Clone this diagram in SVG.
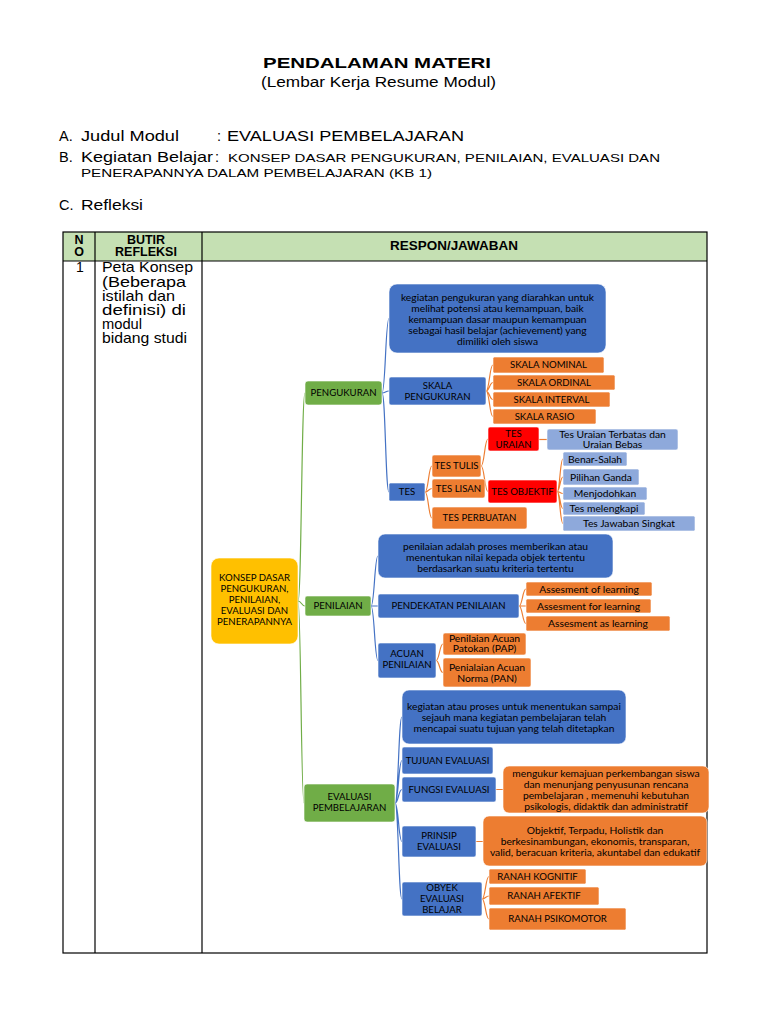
<svg xmlns="http://www.w3.org/2000/svg" width="768" height="1024" viewBox="0 0 768 1024">
<style>
.hd{font-family:"Liberation Sans",Arial,sans-serif;fill:#000}
.bd{font-weight:bold}
.t{font-family:Lato,"Open Sans",sans-serif;font-size:9.6px;fill:#000;text-anchor:middle}
.s{font-family:Lato,"Open Sans",sans-serif;font-size:10.3px;fill:#000;text-anchor:middle}
.b{fill:#4472C4;stroke:#fff;stroke-width:.6}
.o{fill:#ED7D31;stroke:#fff;stroke-width:.6}
.g{fill:#70AD47;stroke:#fff;stroke-width:.6}
.y{fill:#FFC000;stroke:#fff;stroke-width:.6}
.r{fill:#FF0000;stroke:#fff;stroke-width:.6}
.l{fill:#8EA9DB;stroke:#fff;stroke-width:.6}
.cb{fill:none;stroke:#4472C4;stroke-width:1.2}
.co{fill:none;stroke:#ED7D31;stroke-width:1.2}
.cg{fill:none;stroke:#70AD47;stroke-width:1.2}
.tl{fill:none;stroke:#000;stroke-width:1.2}
</style>
<rect width="768" height="1024" fill="#fff"/>
<g id="header">
<text class="hd bd" x="263" y="68" font-size="15" textLength="228" lengthAdjust="spacingAndGlyphs">PENDALAMAN MATERI</text>
<text class="hd" x="261" y="87" font-size="15.5" textLength="235" lengthAdjust="spacingAndGlyphs">(Lembar Kerja Resume Modul)</text>
<text class="hd" x="59" y="141" font-size="14.5">A.</text>
<text class="hd" x="81" y="141" font-size="14.5" textLength="98" lengthAdjust="spacingAndGlyphs">Judul Modul</text>
<text class="hd" x="217" y="141" font-size="14.5">:</text>
<text class="hd" x="227" y="141" font-size="14.5" textLength="237" lengthAdjust="spacingAndGlyphs">EVALUASI PEMBELAJARAN</text>
<text class="hd" x="59" y="162" font-size="14.5">B.</text>
<text class="hd" x="81" y="162" font-size="14.5" textLength="132" lengthAdjust="spacingAndGlyphs">Kegiatan Belajar</text>
<text class="hd" x="215" y="162" font-size="14.5">:</text>
<text class="hd" x="228" y="162" font-size="11.8" textLength="432" lengthAdjust="spacingAndGlyphs">KONSEP DASAR PENGUKURAN, PENILAIAN, EVALUASI DAN</text>
<text class="hd" x="81" y="177" font-size="11.8" textLength="351" lengthAdjust="spacingAndGlyphs">PENERAPANNYA DALAM PEMBELAJARAN (KB 1)</text>
<text class="hd" x="59" y="210" font-size="14.5">C.</text>
<text class="hd" x="81" y="210" font-size="14.5" textLength="62" lengthAdjust="spacingAndGlyphs">Refleksi</text>
</g>
<g id="table">
<rect x="63" y="232" width="644" height="29" fill="#C5E0B3"/>
<rect class="tl" x="63" y="232" width="644" height="721"/>
<line class="tl" x1="63" y1="261" x2="707" y2="261"/>
<line class="tl" x1="95" y1="232" x2="95" y2="953"/>
<line class="tl" x1="202" y1="232" x2="202" y2="953"/>
<text class="hd bd" x="79" y="244" font-size="12.5" text-anchor="middle">N</text>
<text class="hd bd" x="79" y="256" font-size="12.5" text-anchor="middle">O</text>
<text class="hd bd" x="146" y="244" font-size="12.5" text-anchor="middle">BUTIR</text>
<text class="hd bd" x="146" y="256" font-size="12.5" text-anchor="middle">REFLEKSI</text>
<text class="hd bd" x="454" y="250" font-size="12" text-anchor="middle" textLength="128" lengthAdjust="spacingAndGlyphs">RESPON/JAWABAN</text>
<text class="hd" x="80" y="272" font-size="14" text-anchor="middle">1</text>
<g class="hd" font-size="14.5">
<text x="102" y="272" textLength="91" lengthAdjust="spacingAndGlyphs">Peta Konsep</text>
<text x="102" y="287" textLength="84" lengthAdjust="spacingAndGlyphs">(Beberapa</text>
<text x="102" y="301" textLength="73" lengthAdjust="spacingAndGlyphs">istilah dan</text>
<text x="102" y="315" textLength="84" lengthAdjust="spacingAndGlyphs">definisi) di</text>
<text x="102" y="329" textLength="40" lengthAdjust="spacingAndGlyphs">modul</text>
<text x="102" y="343" textLength="85" lengthAdjust="spacingAndGlyphs">bidang studi</text>
</g>
</g>
<g id="connectors">
<path class="cg" d="M298,601 C301.5,601 301.5,393 305,393 M298,601 C301.5,601 301.5,606 305,606 M298,601 C301,601 301,803 304,803"/>
<path class="cb" d="M382,393 C385.5,393 385.5,318.5 389,318.5 M382,393 C385.5,393 385.5,391 389,391 M382,393 C385.5,393 385.5,492 389,492"/>
<path class="co" d="M486,391 C489.5,391 489.5,365 493,365 M486,391 C489.5,391 489.5,382.5 493,382.5 M486,391 C489.5,391 489.5,399.5 493,399.5 M486,391 C489.5,391 489.5,416.5 493,416.5"/>
<path class="co" d="M425,492 C428.5,492 428.5,466 432,466 M425,492 C428.5,492 428.5,488.5 432,488.5 M425,492 C428.5,492 428.5,518 432,518"/>
<path class="co" d="M481,466 C484.5,466 484.5,439 488,439 M481,466 C484.5,466 484.5,491.5 488,491.5"/>
<path class="co" d="M539,439.5 L547,439.5"/>
<path class="co" d="M557,491.5 C560,491.5 560,459 563,459 M557,491.5 C560,491.5 560,477 563,477 M557,491.5 C560,491.5 560,493.5 563,493.5 M557,491.5 C560,491.5 560,508.5 563,508.5 M557,491.5 C560,491.5 560,523.5 563,523.5"/>
<path class="cb" d="M371,606 C374.5,606 374.5,556 378,556 M371,606 L378,606 M371,606 C374.5,606 374.5,660.5 378,660.5"/>
<path class="co" d="M519,606 C522.5,606 522.5,589 526,589 M519,606 L526,606 M519,606 C522.5,606 522.5,623.5 526,623.5"/>
<path class="co" d="M436,660.5 C439.5,660.5 439.5,644 443,644 M436,660.5 C439.5,660.5 439.5,672.5 443,672.5"/>
<path class="cb" d="M395,803 C398.5,803 398.5,717 402,717 M395,803 C398.5,803 398.5,760.5 402,760.5 M395,803 C398.5,803 398.5,789.5 402,789.5 M395,803 C398.5,803 398.5,841.5 402,841.5 M395,803 C398.5,803 398.5,899 402,899"/>
<path class="co" d="M496,789.5 L503,789.5 M476,841.5 L483,841.5"/>
<path class="co" d="M482,899 C485.5,899 485.5,876.5 489,876.5 M482,899 C485.5,899 485.5,896 489,896 M482,899 C485.5,899 485.5,919 489,919"/>
</g>
<g id="root"><rect class="y" x="211" y="558" width="87" height="86" rx="8"/>
<text class="t" x="254.5" y="581">KONSEP DASAR</text><text class="t" x="254.5" y="592">PENGUKURAN,</text><text class="t" x="254.5" y="603">PENILAIAN,</text><text class="t" x="254.5" y="614">EVALUASI DAN</text><text class="t" x="254.5" y="625">PENERAPANNYA</text></g>
<g id="pengukuran"><rect class="g" x="305" y="381" width="77" height="24" rx="3"/><text class="t" x="343.5" y="396.4">PENGUKURAN</text></g>
<g id="def-pengukuran"><rect class="b" x="389" y="284" width="217" height="69" rx="8"/>
<text class="s" x="497.5" y="300.5">kegiatan pengukuran yang diarahkan untuk</text><text class="s" x="497.5" y="311.5">melihat potensi atau kemampuan, baik</text><text class="s" x="497.5" y="322.5">kemampuan dasar maupun kemampuan</text><text class="s" x="497.5" y="333.5">sebagai hasil belajar (achievement) yang</text><text class="s" x="497.5" y="344.5">dimiliki oleh siswa</text></g>
<g id="skala"><rect class="b" x="389" y="377" width="97" height="28" rx="2"/><text class="t" x="437.5" y="388.5">SKALA</text><text class="t" x="437.5" y="399.5">PENGUKURAN</text></g>
<g id="skala-nominal"><rect class="o" x="493" y="357" width="111" height="16" rx="1.5"/><text class="t" x="548.5" y="368.4">SKALA NOMINAL</text></g>
<g id="skala-ordinal"><rect class="o" x="493" y="375" width="122" height="15" rx="1.5"/><text class="t" x="554" y="385.9">SKALA ORDINAL</text></g>
<g id="skala-interval"><rect class="o" x="493" y="392" width="117" height="15" rx="1.5"/><text class="t" x="551.5" y="402.9">SKALA INTERVAL</text></g>
<g id="skala-rasio"><rect class="o" x="493" y="409" width="103" height="15" rx="1.5"/><text class="t" x="544.5" y="419.9">SKALA RASIO</text></g>
<g id="tes"><rect class="b" x="389" y="483" width="36" height="18" rx="1.5"/><text class="t" x="407" y="495.4">TES</text></g>
<g id="tes-tulis"><rect class="o" x="432" y="455" width="49" height="22" rx="2"/><text class="t" x="456.5" y="469.4">TES TULIS</text></g>
<g id="tes-lisan"><rect class="o" x="432" y="479" width="53" height="19" rx="2"/><text class="t" x="458.5" y="491.9">TES LISAN</text></g>
<g id="tes-perbuatan"><rect class="o" x="432" y="507" width="95" height="22" rx="2"/><text class="t" x="479.5" y="521.4">TES PERBUATAN</text></g>
<g id="tes-uraian"><rect class="r" x="488" y="427" width="51" height="24" rx="2"/><text class="t" x="513.5" y="436.5">TES</text><text class="t" x="513.5" y="447.5">URAIAN</text></g>
<g id="tes-objektif"><rect class="r" x="488" y="480" width="69" height="23" rx="2"/><text class="t" x="522.5" y="494.9">TES OBJEKTIF</text></g>
<g id="uraian-bebas"><rect class="l" x="547" y="429" width="131" height="21" rx="2"/><text class="s" x="612.5" y="437.5">Tes Uraian Terbatas dan</text><text class="s" x="612.5" y="447.8">Uraian Bebas</text></g>
<g id="benar-salah"><rect class="l" x="563" y="452" width="64" height="14" rx="1.5"/><text class="s" x="595" y="462.6">Benar-Salah</text></g>
<g id="pilihan-ganda"><rect class="l" x="563" y="469" width="76" height="16" rx="1.5"/><text class="s" x="601" y="480.6">Pilihan Ganda</text></g>
<g id="menjodohkan"><rect class="l" x="563" y="487" width="84" height="13" rx="1.5"/><text class="s" x="605" y="497.1">Menjodohkan</text></g>
<g id="melengkapi"><rect class="l" x="563" y="502" width="82" height="13" rx="1.5"/><text class="s" x="604" y="512.1">Tes melengkapi</text></g>
<g id="jawaban-singkat"><rect class="l" x="563" y="516" width="132" height="15" rx="1.5"/><text class="s" x="629" y="527.1">Tes Jawaban Singkat</text></g>
<g id="penilaian"><rect class="g" x="305" y="596" width="66" height="20" rx="2"/><text class="t" x="338" y="609.4">PENILAIAN</text></g>
<g id="def-penilaian"><rect class="b" x="378" y="534" width="235" height="44" rx="7"/>
<text class="s" x="495.5" y="549.5">penilaian adalah proses memberikan atau</text><text class="s" x="495.5" y="560.5">menentukan nilai kepada objek tertentu</text><text class="s" x="495.5" y="571.5">berdasarkan suatu kriteria tertentu</text></g>
<g id="pendekatan"><rect class="b" x="378" y="594" width="141" height="24" rx="2"/><text class="t" x="448.5" y="609.4">PENDEKATAN PENILAIAN</text></g>
<g id="as-of"><rect class="o" x="526" y="582" width="126" height="14" rx="1.5"/><text class="s" x="589" y="592.6">Assesment of learning</text></g>
<g id="as-for"><rect class="o" x="526" y="599" width="125" height="14" rx="1.5"/><text class="s" x="588.5" y="609.6">Assesment for learning</text></g>
<g id="as-as"><rect class="o" x="526" y="616" width="144" height="15" rx="1.5"/><text class="s" x="598" y="627.1">Assesment as learning</text></g>
<g id="acuan"><rect class="b" x="378" y="643" width="58" height="35" rx="2"/><text class="t" x="407" y="657.3">ACUAN</text><text class="t" x="407" y="668.3">PENILAIAN</text></g>
<g id="pap"><rect class="o" x="443" y="633" width="83" height="22" rx="2"/><text class="s" x="484.5" y="641.8">Penilaian Acuan</text><text class="s" x="484.5" y="652.3">Patokan (PAP)</text></g>
<g id="pan"><rect class="o" x="443" y="658" width="88" height="29" rx="2"/><text class="s" x="487" y="670.5">Penialaian Acuan</text><text class="s" x="487" y="681.5">Norma (PAN)</text></g>
<g id="evaluasi"><rect class="g" x="304" y="784" width="91" height="38" rx="3"/><text class="t" x="349.5" y="800.3">EVALUASI</text><text class="t" x="349.5" y="811.3">PEMBELAJARAN</text></g>
<g id="def-evaluasi"><rect class="b" x="402" y="690" width="224" height="54" rx="7"/>
<text class="s" x="514" y="709.5">kegiatan atau proses untuk menentukan sampai</text><text class="s" x="514" y="720.5">sejauh mana kegiatan pembelajaran telah</text><text class="s" x="514" y="731.5">mencapai suatu tujuan yang telah ditetapkan</text></g>
<g id="tujuan"><rect class="b" x="402" y="747" width="91" height="27" rx="2"/><text class="t" x="447.5" y="763.9">TUJUAN EVALUASI</text></g>
<g id="fungsi"><rect class="b" x="402" y="777" width="94" height="25" rx="2"/><text class="t" x="449" y="792.9">FUNGSI EVALUASI</text></g>
<g id="fungsi-isi"><rect class="o" x="503" y="766" width="206" height="47" rx="6"/>
<text class="s" x="606" y="776.5">mengukur kemajuan perkembangan siswa</text><text class="s" x="606" y="787.5">dan menunjang penyusunan rencana</text><text class="s" x="606" y="798.5">pembelajaran , memenuhi kebutuhan</text><text class="s" x="606" y="809.5">psikologis, didaktik dan administratif</text></g>
<g id="prinsip"><rect class="b" x="402" y="826" width="74" height="31" rx="2"/><text class="t" x="439" y="838.8">PRINSIP</text><text class="t" x="439" y="850.3">EVALUASI</text></g>
<g id="prinsip-isi"><rect class="o" x="483" y="816" width="224" height="50" rx="6"/>
<text class="s" x="595" y="833.5">Objektif, Terpadu, Holistik dan</text><text class="s" x="595" y="844.5">berkesinambungan, ekonomis, transparan,</text><text class="s" x="595" y="855.5">valid, beracuan kriteria, akuntabel dan edukatif</text></g>
<g id="obyek"><rect class="b" x="402" y="882" width="80" height="34" rx="2"/><text class="t" x="442" y="891.3">OBYEK</text><text class="t" x="442" y="902.3">EVALUASI</text><text class="t" x="442" y="913.3">BELAJAR</text></g>
<g id="kognitif"><rect class="o" x="489" y="869" width="97" height="15" rx="1.5"/><text class="t" x="537.5" y="879.9">RANAH KOGNITIF</text></g>
<g id="afektif"><rect class="o" x="489" y="887" width="110" height="18" rx="1.5"/><text class="t" x="544" y="899.4">RANAH AFEKTIF</text></g>
<g id="psikomotor"><rect class="o" x="489" y="908" width="137" height="22" rx="1.5"/><text class="t" x="557.5" y="922.4">RANAH PSIKOMOTOR</text></g>
</svg>
